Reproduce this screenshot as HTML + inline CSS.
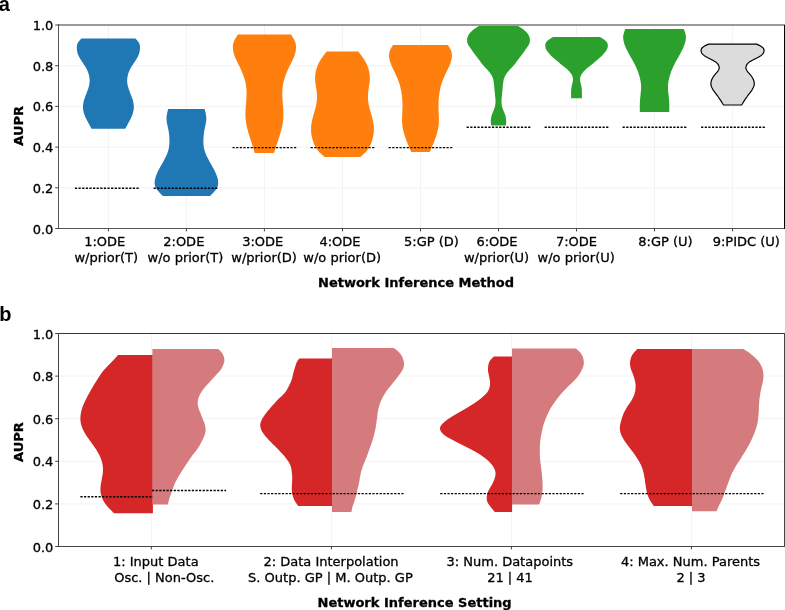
<!DOCTYPE html>
<html lang="en"><head><meta charset="utf-8"><title>AUPR violin plots</title>
<style>html,body{margin:0;padding:0;background:#fff}svg{display:block}text{font-family:"DejaVu Sans","Liberation Sans",sans-serif;fill:#000;stroke:#000;stroke-width:0.3px}.t{font-size:13px}.b{font-size:13px;font-weight:bold}.p{font-family:"Liberation Sans","DejaVu Sans",sans-serif;font-size:20px;font-weight:bold;stroke:none}</style></head><body>
<svg width="785" height="610" viewBox="0 0 785 610">
<rect width="785" height="610" fill="#fff"/>
<line x1="58.5" x2="784.0" y1="228.5" y2="228.5" stroke="#f3f3f3" stroke-width="1"/>
<line x1="58.5" x2="784.0" y1="187.8" y2="187.8" stroke="#f3f3f3" stroke-width="1"/>
<line x1="58.5" x2="784.0" y1="147.1" y2="147.1" stroke="#f3f3f3" stroke-width="1"/>
<line x1="58.5" x2="784.0" y1="106.4" y2="106.4" stroke="#f3f3f3" stroke-width="1"/>
<line x1="58.5" x2="784.0" y1="65.7" y2="65.7" stroke="#f3f3f3" stroke-width="1"/>
<line x1="58.5" x2="784.0" y1="25.0" y2="25.0" stroke="#f3f3f3" stroke-width="1"/>
<line x1="108.4" x2="108.4" y1="25.0" y2="228.5" stroke="#f3f3f3" stroke-width="1"/>
<line x1="186.4" x2="186.4" y1="25.0" y2="228.5" stroke="#f3f3f3" stroke-width="1"/>
<line x1="264.4" x2="264.4" y1="25.0" y2="228.5" stroke="#f3f3f3" stroke-width="1"/>
<line x1="342.5" x2="342.5" y1="25.0" y2="228.5" stroke="#f3f3f3" stroke-width="1"/>
<line x1="420.5" x2="420.5" y1="25.0" y2="228.5" stroke="#f3f3f3" stroke-width="1"/>
<line x1="498.5" x2="498.5" y1="25.0" y2="228.5" stroke="#f3f3f3" stroke-width="1"/>
<line x1="576.5" x2="576.5" y1="25.0" y2="228.5" stroke="#f3f3f3" stroke-width="1"/>
<line x1="654.5" x2="654.5" y1="25.0" y2="228.5" stroke="#f3f3f3" stroke-width="1"/>
<line x1="732.6" x2="732.6" y1="25.0" y2="228.5" stroke="#f3f3f3" stroke-width="1"/>
<path d="M81.5,38.4 L80.4,39.5 L79.4,40.7 L78.5,41.8 L77.8,43.0 L77.3,44.1 L77.0,45.3 L76.8,46.4 L76.8,47.5 L76.8,48.7 L76.9,49.8 L77.1,51.0 L77.3,52.1 L77.6,53.3 L78.0,54.4 L78.5,55.5 L79.0,56.7 L79.6,57.8 L80.3,59.0 L81.0,60.1 L81.7,61.3 L82.5,62.4 L83.3,63.5 L84.0,64.7 L84.8,65.8 L85.5,67.0 L86.1,68.1 L86.7,69.3 L87.3,70.4 L87.8,71.5 L88.2,72.7 L88.6,73.8 L88.9,75.0 L89.1,76.1 L89.4,77.3 L89.5,78.4 L89.6,79.5 L89.7,80.7 L89.6,81.8 L89.5,83.0 L89.4,84.1 L89.1,85.3 L88.9,86.4 L88.5,87.6 L88.2,88.7 L87.8,89.8 L87.4,91.0 L86.9,92.1 L86.5,93.3 L86.1,94.4 L85.6,95.6 L85.2,96.7 L84.8,97.8 L84.4,99.0 L84.0,100.1 L83.7,101.3 L83.5,102.4 L83.3,103.6 L83.1,104.7 L83.0,105.8 L83.0,107.0 L83.0,108.1 L83.1,109.3 L83.3,110.4 L83.5,111.6 L83.8,112.7 L84.1,113.8 L84.5,115.0 L85.0,116.1 L85.5,117.3 L86.0,118.4 L86.6,119.6 L87.2,120.7 L87.8,121.8 L88.4,123.0 L89.0,124.1 L89.6,125.3 L90.3,126.4 L90.9,127.6 L91.5,128.7 L125.3,128.7 L125.9,127.6 L126.5,126.4 L127.2,125.3 L127.8,124.1 L128.4,123.0 L129.0,121.8 L129.6,120.7 L130.2,119.6 L130.8,118.4 L131.3,117.3 L131.8,116.1 L132.3,115.0 L132.7,113.8 L133.0,112.7 L133.3,111.6 L133.5,110.4 L133.7,109.3 L133.8,108.1 L133.8,107.0 L133.8,105.8 L133.7,104.7 L133.5,103.6 L133.3,102.4 L133.1,101.3 L132.8,100.1 L132.4,99.0 L132.0,97.8 L131.6,96.7 L131.2,95.6 L130.7,94.4 L130.3,93.3 L129.9,92.1 L129.4,91.0 L129.0,89.8 L128.6,88.7 L128.3,87.6 L127.9,86.4 L127.7,85.3 L127.4,84.1 L127.3,83.0 L127.2,81.8 L127.1,80.7 L127.2,79.5 L127.3,78.4 L127.4,77.3 L127.7,76.1 L127.9,75.0 L128.2,73.8 L128.6,72.7 L129.0,71.5 L129.5,70.4 L130.1,69.3 L130.7,68.1 L131.3,67.0 L132.0,65.8 L132.8,64.7 L133.5,63.5 L134.3,62.4 L135.1,61.3 L135.8,60.1 L136.5,59.0 L137.2,57.8 L137.8,56.7 L138.3,55.5 L138.8,54.4 L139.2,53.3 L139.5,52.1 L139.7,51.0 L139.9,49.8 L140.0,48.7 L140.0,47.5 L140.0,46.4 L139.8,45.3 L139.5,44.1 L139.0,43.0 L138.3,41.8 L137.4,40.7 L136.4,39.5 L135.3,38.4Z" fill="#1f77b4"/>
<path d="M168.2,109.0 L167.9,110.1 L167.6,111.2 L167.4,112.3 L167.1,113.4 L166.9,114.5 L166.7,115.6 L166.6,116.7 L166.5,117.8 L166.5,118.9 L166.6,120.0 L166.7,121.1 L166.8,122.2 L167.0,123.3 L167.2,124.4 L167.5,125.5 L167.7,126.6 L167.9,127.7 L168.2,128.8 L168.4,129.9 L168.6,131.0 L168.8,132.1 L168.9,133.2 L169.1,134.3 L169.2,135.4 L169.3,136.5 L169.3,137.6 L169.4,138.7 L169.4,139.8 L169.4,140.9 L169.4,142.0 L169.4,143.1 L169.3,144.2 L169.2,145.3 L169.1,146.4 L169.0,147.5 L168.7,148.6 L168.5,149.7 L168.2,150.8 L167.8,151.9 L167.4,153.1 L167.0,154.2 L166.5,155.3 L166.0,156.4 L165.4,157.5 L164.9,158.6 L164.3,159.7 L163.7,160.8 L163.1,161.9 L162.5,163.0 L161.9,164.1 L161.2,165.2 L160.6,166.3 L160.0,167.4 L159.4,168.5 L158.8,169.6 L158.3,170.7 L157.7,171.8 L157.2,172.9 L156.8,174.0 L156.3,175.1 L155.9,176.2 L155.6,177.3 L155.3,178.4 L155.0,179.5 L154.8,180.6 L154.7,181.7 L154.6,182.8 L154.7,183.9 L154.9,185.0 L155.1,186.1 L155.6,187.2 L156.2,188.3 L156.8,189.4 L157.7,190.5 L158.6,191.6 L159.6,192.7 L160.6,193.8 L161.8,194.9 L162.9,196.0 L209.9,196.0 L211.1,194.9 L212.2,193.8 L213.3,192.7 L214.3,191.6 L215.2,190.5 L216.0,189.4 L216.7,188.3 L217.3,187.2 L217.7,186.1 L218.0,185.0 L218.1,183.9 L218.2,182.8 L218.1,181.7 L218.0,180.6 L217.8,179.5 L217.6,178.4 L217.3,177.3 L216.9,176.2 L216.5,175.1 L216.1,174.0 L215.6,172.9 L215.1,171.8 L214.6,170.7 L214.0,169.6 L213.4,168.5 L212.8,167.4 L212.2,166.3 L211.6,165.2 L211.0,164.1 L210.4,163.0 L209.7,161.9 L209.1,160.8 L208.5,159.7 L208.0,158.6 L207.4,157.5 L206.9,156.4 L206.3,155.3 L205.9,154.2 L205.4,153.1 L205.0,151.9 L204.7,150.8 L204.4,149.7 L204.1,148.6 L203.9,147.5 L203.7,146.4 L203.6,145.3 L203.5,144.2 L203.4,143.1 L203.4,142.0 L203.4,140.9 L203.4,139.8 L203.5,138.7 L203.5,137.6 L203.6,136.5 L203.7,135.4 L203.8,134.3 L203.9,133.2 L204.1,132.1 L204.2,131.0 L204.4,129.9 L204.7,128.8 L204.9,127.7 L205.1,126.6 L205.4,125.5 L205.6,124.4 L205.8,123.3 L206.0,122.2 L206.2,121.1 L206.3,120.0 L206.3,118.9 L206.3,117.8 L206.2,116.7 L206.1,115.6 L205.9,114.5 L205.7,113.4 L205.5,112.3 L205.2,111.2 L204.9,110.1 L204.6,109.0Z" fill="#1f77b4"/>
<path d="M237.9,34.6 L236.9,36.1 L236.0,37.6 L235.1,39.1 L234.3,40.6 L233.7,42.1 L233.3,43.6 L233.0,45.1 L232.9,46.6 L232.9,48.1 L233.0,49.6 L233.2,51.1 L233.5,52.6 L233.9,54.1 L234.4,55.6 L235.0,57.1 L235.6,58.6 L236.3,60.1 L237.0,61.6 L237.8,63.1 L238.5,64.6 L239.3,66.1 L240.0,67.6 L240.7,69.1 L241.3,70.6 L242.0,72.1 L242.6,73.6 L243.2,75.1 L243.7,76.6 L244.2,78.1 L244.7,79.6 L245.1,81.1 L245.5,82.6 L245.8,84.1 L246.0,85.6 L246.2,87.1 L246.4,88.6 L246.5,90.1 L246.5,91.6 L246.6,93.1 L246.5,94.5 L246.5,96.0 L246.4,97.5 L246.4,99.0 L246.3,100.5 L246.2,102.0 L246.1,103.5 L245.9,105.0 L245.8,106.5 L245.7,108.0 L245.6,109.5 L245.5,111.0 L245.5,112.5 L245.4,114.0 L245.4,115.5 L245.5,117.0 L245.6,118.5 L245.7,120.0 L245.9,121.5 L246.1,123.0 L246.4,124.5 L246.7,126.0 L247.0,127.5 L247.4,129.0 L247.8,130.5 L248.2,132.0 L248.6,133.5 L249.1,135.0 L249.5,136.5 L250.0,138.0 L250.5,139.5 L251.0,141.0 L251.5,142.5 L252.0,144.0 L252.4,145.5 L252.9,147.0 L253.4,148.5 L253.9,150.0 L254.3,151.5 L254.7,153.0 L274.1,153.0 L274.6,151.5 L275.0,150.0 L275.5,148.5 L276.0,147.0 L276.4,145.5 L276.9,144.0 L277.4,142.5 L277.9,141.0 L278.4,139.5 L278.9,138.0 L279.4,136.5 L279.8,135.0 L280.3,133.5 L280.7,132.0 L281.1,130.5 L281.5,129.0 L281.9,127.5 L282.2,126.0 L282.5,124.5 L282.8,123.0 L283.0,121.5 L283.2,120.0 L283.3,118.5 L283.4,117.0 L283.4,115.5 L283.4,114.0 L283.4,112.5 L283.4,111.0 L283.3,109.5 L283.2,108.0 L283.1,106.5 L282.9,105.0 L282.8,103.5 L282.7,102.0 L282.6,100.5 L282.5,99.0 L282.4,97.5 L282.4,96.0 L282.3,94.5 L282.3,93.1 L282.3,91.6 L282.4,90.1 L282.5,88.6 L282.7,87.1 L282.9,85.6 L283.1,84.1 L283.4,82.6 L283.8,81.1 L284.2,79.6 L284.7,78.1 L285.2,76.6 L285.7,75.1 L286.3,73.6 L286.9,72.1 L287.5,70.6 L288.2,69.1 L288.9,67.6 L289.6,66.1 L290.4,64.6 L291.1,63.1 L291.9,61.6 L292.6,60.1 L293.3,58.6 L293.9,57.1 L294.5,55.6 L295.0,54.1 L295.4,52.6 L295.7,51.1 L295.9,49.6 L296.0,48.1 L296.0,46.6 L295.9,45.1 L295.6,43.6 L295.2,42.1 L294.6,40.6 L293.8,39.1 L292.9,37.6 L291.9,36.1 L290.9,34.6Z" fill="#ff7f0e"/>
<path d="M326.6,51.6 L325.5,52.9 L324.5,54.3 L323.5,55.6 L322.5,56.9 L321.6,58.3 L320.7,59.6 L319.9,60.9 L319.2,62.3 L318.5,63.6 L317.9,64.9 L317.3,66.3 L316.9,67.6 L316.4,68.9 L316.1,70.3 L315.8,71.6 L315.5,72.9 L315.4,74.3 L315.2,75.6 L315.1,76.9 L315.1,78.3 L315.1,79.6 L315.2,81.0 L315.4,82.3 L315.5,83.6 L315.7,85.0 L315.9,86.3 L316.1,87.6 L316.3,89.0 L316.5,90.3 L316.7,91.6 L316.8,93.0 L316.9,94.3 L317.0,95.6 L317.0,97.0 L316.9,98.3 L316.9,99.6 L316.8,101.0 L316.6,102.3 L316.4,103.6 L316.1,105.0 L315.9,106.3 L315.6,107.6 L315.2,109.0 L314.8,110.3 L314.5,111.6 L314.1,113.0 L313.7,114.3 L313.3,115.6 L312.9,117.0 L312.6,118.3 L312.2,119.6 L311.9,121.0 L311.7,122.3 L311.5,123.6 L311.3,125.0 L311.2,126.3 L311.1,127.6 L311.1,129.0 L311.1,130.3 L311.1,131.7 L311.2,133.0 L311.4,134.3 L311.6,135.7 L311.9,137.0 L312.2,138.3 L312.6,139.7 L313.0,141.0 L313.4,142.3 L313.9,143.7 L314.5,145.0 L315.2,146.3 L316.0,147.7 L316.8,149.0 L317.8,150.3 L318.8,151.7 L320.1,153.0 L321.5,154.3 L323.2,155.7 L324.9,157.0 L360.1,157.0 L361.8,155.7 L363.4,154.3 L364.8,153.0 L366.1,151.7 L367.2,150.3 L368.1,149.0 L369.0,147.7 L369.7,146.3 L370.4,145.0 L371.0,143.7 L371.5,142.3 L372.0,141.0 L372.4,139.7 L372.7,138.3 L373.0,137.0 L373.3,135.7 L373.5,134.3 L373.7,133.0 L373.8,131.7 L373.9,130.3 L373.9,129.0 L373.8,127.6 L373.7,126.3 L373.6,125.0 L373.4,123.6 L373.2,122.3 L373.0,121.0 L372.7,119.6 L372.4,118.3 L372.0,117.0 L371.6,115.6 L371.2,114.3 L370.8,113.0 L370.5,111.6 L370.1,110.3 L369.7,109.0 L369.4,107.6 L369.1,106.3 L368.8,105.0 L368.5,103.6 L368.3,102.3 L368.2,101.0 L368.0,99.6 L368.0,98.3 L367.9,97.0 L368.0,95.6 L368.0,94.3 L368.1,93.0 L368.3,91.6 L368.4,90.3 L368.6,89.0 L368.8,87.6 L369.0,86.3 L369.2,85.0 L369.4,83.6 L369.6,82.3 L369.7,81.0 L369.8,79.6 L369.8,78.3 L369.8,76.9 L369.7,75.6 L369.6,74.3 L369.4,72.9 L369.1,71.6 L368.8,70.3 L368.5,68.9 L368.1,67.6 L367.6,66.3 L367.0,64.9 L366.4,63.6 L365.8,62.3 L365.0,60.9 L364.2,59.6 L363.3,58.3 L362.4,56.9 L361.4,55.6 L360.4,54.3 L359.4,52.9 L358.4,51.6Z" fill="#ff7f0e"/>
<path d="M393.0,45.0 L392.1,46.4 L391.3,47.7 L390.6,49.1 L390.0,50.4 L389.5,51.8 L389.2,53.1 L389.1,54.5 L389.0,55.8 L389.1,57.2 L389.3,58.5 L389.6,59.9 L389.9,61.3 L390.4,62.6 L390.9,64.0 L391.4,65.3 L392.0,66.7 L392.6,68.0 L393.3,69.4 L393.9,70.7 L394.6,72.1 L395.2,73.4 L395.9,74.8 L396.5,76.2 L397.1,77.5 L397.7,78.9 L398.2,80.2 L398.7,81.6 L399.1,82.9 L399.6,84.3 L400.0,85.6 L400.3,87.0 L400.6,88.3 L400.9,89.7 L401.2,91.1 L401.4,92.4 L401.6,93.8 L401.8,95.1 L402.0,96.5 L402.1,97.8 L402.2,99.2 L402.3,100.5 L402.4,101.9 L402.4,103.2 L402.5,104.6 L402.5,105.9 L402.5,107.3 L402.4,108.7 L402.4,110.0 L402.3,111.4 L402.3,112.7 L402.2,114.1 L402.2,115.4 L402.1,116.8 L402.1,118.1 L402.0,119.5 L402.0,120.8 L402.1,122.2 L402.2,123.6 L402.3,124.9 L402.4,126.3 L402.6,127.6 L402.9,129.0 L403.2,130.3 L403.5,131.7 L403.9,133.0 L404.3,134.4 L404.7,135.7 L405.2,137.1 L405.6,138.5 L406.1,139.8 L406.6,141.2 L407.2,142.5 L407.7,143.9 L408.3,145.2 L408.8,146.6 L409.4,147.9 L410.0,149.3 L410.6,150.6 L411.2,152.0 L429.8,152.0 L430.4,150.6 L431.0,149.3 L431.5,147.9 L432.1,146.6 L432.7,145.2 L433.2,143.9 L433.8,142.5 L434.3,141.2 L434.8,139.8 L435.3,138.5 L435.8,137.1 L436.2,135.7 L436.7,134.4 L437.1,133.0 L437.4,131.7 L437.8,130.3 L438.1,129.0 L438.3,127.6 L438.5,126.3 L438.7,124.9 L438.8,123.6 L438.9,122.2 L438.9,120.8 L438.9,119.5 L438.9,118.1 L438.9,116.8 L438.8,115.4 L438.7,114.1 L438.7,112.7 L438.6,111.4 L438.6,110.0 L438.5,108.7 L438.5,107.3 L438.5,105.9 L438.5,104.6 L438.5,103.2 L438.6,101.9 L438.6,100.5 L438.7,99.2 L438.9,97.8 L439.0,96.5 L439.2,95.1 L439.3,93.8 L439.6,92.4 L439.8,91.1 L440.0,89.7 L440.3,88.3 L440.6,87.0 L441.0,85.6 L441.4,84.3 L441.8,82.9 L442.3,81.6 L442.8,80.2 L443.3,78.9 L443.9,77.5 L444.5,76.2 L445.1,74.8 L445.7,73.4 L446.4,72.1 L447.0,70.7 L447.7,69.4 L448.3,68.0 L449.0,66.7 L449.5,65.3 L450.1,64.0 L450.6,62.6 L451.0,61.3 L451.4,59.9 L451.7,58.5 L451.9,57.2 L451.9,55.8 L451.9,54.5 L451.7,53.1 L451.4,51.8 L451.0,50.4 L450.3,49.1 L449.6,47.7 L448.8,46.4 L448.0,45.0Z" fill="#ff7f0e"/>
<path d="M481.0,24.5 L479.2,25.8 L477.3,27.1 L475.3,28.3 L473.5,29.6 L471.9,30.9 L470.5,32.2 L469.5,33.5 L468.6,34.7 L468.0,36.0 L467.5,37.3 L467.2,38.6 L467.1,39.9 L467.1,41.1 L467.3,42.4 L467.7,43.7 L468.3,45.0 L469.1,46.3 L470.0,47.5 L470.9,48.8 L471.8,50.1 L472.7,51.4 L473.6,52.7 L474.6,53.9 L475.6,55.2 L476.5,56.5 L477.5,57.8 L478.4,59.1 L479.4,60.3 L480.3,61.6 L481.3,62.9 L482.3,64.2 L483.4,65.5 L484.5,66.7 L485.7,68.0 L486.9,69.3 L488.0,70.6 L489.1,71.9 L490.1,73.1 L491.0,74.4 L491.8,75.7 L492.4,77.0 L492.9,78.2 L493.3,79.5 L493.5,80.8 L493.7,82.1 L493.9,83.4 L494.1,84.6 L494.2,85.9 L494.3,87.2 L494.4,88.5 L494.5,89.8 L494.6,91.0 L494.7,92.3 L494.9,93.6 L495.0,94.9 L495.1,96.2 L495.3,97.4 L495.4,98.7 L495.5,100.0 L495.5,101.3 L495.5,102.6 L495.4,103.8 L495.2,105.1 L495.0,106.4 L494.6,107.7 L494.2,109.0 L493.7,110.2 L493.2,111.5 L492.6,112.8 L492.1,114.1 L491.7,115.4 L491.3,116.6 L491.1,117.9 L490.9,119.2 L490.8,120.5 L490.8,121.8 L490.9,123.0 L491.0,124.3 L491.2,125.6 L505.8,125.6 L506.0,124.3 L506.1,123.0 L506.2,121.8 L506.2,120.5 L506.1,119.2 L505.9,117.9 L505.7,116.6 L505.3,115.4 L504.9,114.1 L504.4,112.8 L503.8,111.5 L503.3,110.2 L502.8,109.0 L502.4,107.7 L502.0,106.4 L501.8,105.1 L501.6,103.8 L501.5,102.6 L501.5,101.3 L501.5,100.0 L501.6,98.7 L501.7,97.4 L501.9,96.2 L502.0,94.9 L502.1,93.6 L502.3,92.3 L502.4,91.0 L502.5,89.8 L502.6,88.5 L502.7,87.2 L502.8,85.9 L502.9,84.6 L503.1,83.4 L503.3,82.1 L503.5,80.8 L503.7,79.5 L504.1,78.2 L504.6,77.0 L505.2,75.7 L506.0,74.4 L506.9,73.1 L507.9,71.9 L509.0,70.6 L510.1,69.3 L511.3,68.0 L512.5,66.7 L513.6,65.5 L514.7,64.2 L515.7,62.9 L516.7,61.6 L517.6,60.3 L518.6,59.1 L519.5,57.8 L520.5,56.5 L521.4,55.2 L522.4,53.9 L523.4,52.7 L524.3,51.4 L525.2,50.1 L526.1,48.8 L527.0,47.5 L527.9,46.3 L528.7,45.0 L529.3,43.7 L529.7,42.4 L529.9,41.1 L529.9,39.9 L529.8,38.6 L529.5,37.3 L529.0,36.0 L528.4,34.7 L527.5,33.5 L526.5,32.2 L525.1,30.9 L523.5,29.6 L521.7,28.3 L519.7,27.1 L517.8,25.8 L516.0,24.5Z" fill="#2ca02c"/>
<path d="M552.9,37.1 L551.6,37.9 L550.3,38.6 L549.2,39.4 L548.1,40.2 L547.2,41.0 L546.5,41.7 L546.0,42.5 L545.6,43.3 L545.4,44.1 L545.3,44.8 L545.2,45.6 L545.3,46.4 L545.4,47.2 L545.6,47.9 L545.8,48.7 L546.2,49.5 L546.6,50.2 L547.1,51.0 L547.6,51.8 L548.2,52.6 L548.9,53.3 L549.6,54.1 L550.3,54.9 L551.1,55.7 L551.9,56.4 L552.7,57.2 L553.6,58.0 L554.5,58.8 L555.4,59.5 L556.2,60.3 L557.2,61.1 L558.1,61.8 L559.0,62.6 L559.9,63.4 L560.9,64.2 L561.9,64.9 L562.8,65.7 L563.8,66.5 L564.8,67.3 L565.7,68.0 L566.6,68.8 L567.5,69.6 L568.3,70.4 L569.0,71.1 L569.7,71.9 L570.4,72.7 L571.0,73.5 L571.5,74.2 L571.9,75.0 L572.2,75.8 L572.5,76.5 L572.7,77.3 L572.9,78.1 L573.0,78.9 L573.0,79.6 L572.9,80.4 L572.8,81.2 L572.7,82.0 L572.5,82.7 L572.3,83.5 L572.1,84.3 L572.0,85.1 L571.8,85.8 L571.6,86.6 L571.5,87.4 L571.4,88.1 L571.3,88.9 L571.2,89.7 L571.2,90.5 L571.1,91.2 L571.1,92.0 L571.1,92.8 L571.1,93.6 L571.1,94.3 L571.1,95.1 L571.1,95.9 L571.1,96.7 L571.1,97.4 L571.1,98.2 L581.9,98.2 L581.9,97.4 L581.9,96.7 L581.9,95.9 L581.9,95.1 L581.9,94.3 L581.9,93.6 L581.9,92.8 L581.9,92.0 L581.9,91.2 L581.9,90.5 L581.8,89.7 L581.8,88.9 L581.7,88.1 L581.6,87.4 L581.4,86.6 L581.3,85.8 L581.1,85.1 L580.9,84.3 L580.7,83.5 L580.5,82.7 L580.4,82.0 L580.2,81.2 L580.1,80.4 L580.1,79.6 L580.1,78.9 L580.2,78.1 L580.3,77.3 L580.5,76.5 L580.8,75.8 L581.2,75.0 L581.6,74.2 L582.1,73.5 L582.7,72.7 L583.3,71.9 L584.0,71.1 L584.8,70.4 L585.6,69.6 L586.4,68.8 L587.3,68.0 L588.3,67.3 L589.2,66.5 L590.2,65.7 L591.2,64.9 L592.2,64.2 L593.1,63.4 L594.1,62.6 L595.0,61.8 L595.9,61.1 L596.8,60.3 L597.7,59.5 L598.6,58.8 L599.4,58.0 L600.3,57.2 L601.1,56.4 L602.0,55.7 L602.7,54.9 L603.5,54.1 L604.2,53.3 L604.8,52.6 L605.4,51.8 L606.0,51.0 L606.4,50.2 L606.8,49.5 L607.2,48.7 L607.5,47.9 L607.7,47.2 L607.8,46.4 L607.8,45.6 L607.8,44.8 L607.7,44.1 L607.4,43.3 L607.0,42.5 L606.5,41.7 L605.8,41.0 L604.9,40.2 L603.9,39.4 L602.7,38.6 L601.4,37.9 L600.1,37.1Z" fill="#2ca02c"/>
<path d="M625.3,29.0 L624.9,30.1 L624.5,31.1 L624.1,32.2 L623.8,33.2 L623.5,34.3 L623.3,35.3 L623.2,36.4 L623.1,37.4 L623.2,38.5 L623.3,39.5 L623.5,40.6 L623.7,41.6 L624.0,42.7 L624.3,43.7 L624.6,44.8 L625.0,45.8 L625.5,46.9 L625.9,47.9 L626.4,49.0 L626.9,50.0 L627.4,51.1 L628.0,52.1 L628.5,53.2 L629.1,54.2 L629.7,55.3 L630.3,56.3 L630.9,57.4 L631.5,58.4 L632.1,59.5 L632.7,60.5 L633.2,61.6 L633.8,62.6 L634.4,63.7 L634.9,64.7 L635.4,65.8 L635.9,66.8 L636.4,67.9 L636.8,68.9 L637.3,70.0 L637.7,71.0 L638.1,72.1 L638.4,73.1 L638.8,74.2 L639.1,75.2 L639.4,76.3 L639.7,77.3 L640.0,78.4 L640.2,79.4 L640.4,80.5 L640.6,81.5 L640.8,82.6 L640.9,83.6 L641.0,84.7 L641.1,85.7 L641.1,86.8 L641.1,87.8 L641.1,88.9 L641.0,89.9 L640.9,91.0 L640.8,92.0 L640.7,93.1 L640.6,94.1 L640.5,95.2 L640.4,96.2 L640.3,97.3 L640.2,98.3 L640.1,99.4 L640.0,100.4 L639.9,101.5 L639.9,102.5 L639.8,103.6 L639.8,104.6 L639.8,105.7 L639.8,106.7 L639.8,107.8 L639.8,108.8 L639.8,109.9 L639.8,110.9 L639.8,112.0 L669.2,112.0 L669.3,110.9 L669.3,109.9 L669.3,108.8 L669.3,107.8 L669.3,106.7 L669.3,105.7 L669.3,104.6 L669.3,103.6 L669.2,102.5 L669.2,101.5 L669.1,100.4 L669.0,99.4 L668.9,98.3 L668.8,97.3 L668.7,96.2 L668.6,95.2 L668.4,94.1 L668.3,93.1 L668.2,92.0 L668.1,91.0 L668.1,89.9 L668.0,88.9 L668.0,87.8 L668.0,86.8 L668.0,85.7 L668.1,84.7 L668.2,83.6 L668.3,82.6 L668.4,81.5 L668.6,80.5 L668.9,79.4 L669.1,78.4 L669.4,77.3 L669.7,76.3 L670.0,75.2 L670.3,74.2 L670.7,73.1 L671.0,72.1 L671.4,71.0 L671.8,70.0 L672.2,68.9 L672.7,67.9 L673.2,66.8 L673.7,65.8 L674.2,64.7 L674.7,63.7 L675.3,62.6 L675.8,61.6 L676.4,60.5 L677.0,59.5 L677.6,58.4 L678.2,57.4 L678.8,56.3 L679.4,55.3 L680.0,54.2 L680.5,53.2 L681.1,52.1 L681.6,51.1 L682.2,50.0 L682.7,49.0 L683.1,47.9 L683.6,46.9 L684.0,45.8 L684.4,44.8 L684.8,43.7 L685.1,42.7 L685.4,41.6 L685.6,40.6 L685.8,39.5 L685.9,38.5 L685.9,37.4 L685.9,36.4 L685.8,35.3 L685.6,34.3 L685.3,33.2 L685.0,32.2 L684.6,31.1 L684.2,30.1 L683.7,29.0Z" fill="#2ca02c"/>
<path d="M708.5,44.1 L706.8,44.9 L705.3,45.6 L703.9,46.4 L702.9,47.2 L702.1,48.0 L701.5,48.7 L701.2,49.5 L701.1,50.3 L701.1,51.0 L701.2,51.8 L701.5,52.6 L701.9,53.4 L702.5,54.1 L703.4,54.9 L704.4,55.7 L705.5,56.4 L706.9,57.2 L708.3,58.0 L709.8,58.7 L711.3,59.5 L712.7,60.3 L714.1,61.1 L715.4,61.8 L716.4,62.6 L717.3,63.4 L717.9,64.1 L718.4,64.9 L718.8,65.7 L719.0,66.5 L719.2,67.2 L719.2,68.0 L719.1,68.8 L718.8,69.5 L718.4,70.3 L717.9,71.1 L717.3,71.9 L716.7,72.6 L716.0,73.4 L715.3,74.2 L714.7,74.9 L714.1,75.7 L713.5,76.5 L713.0,77.2 L712.6,78.0 L712.2,78.8 L711.8,79.6 L711.5,80.3 L711.3,81.1 L711.1,81.9 L710.9,82.6 L710.9,83.4 L710.9,84.2 L711.0,85.0 L711.2,85.7 L711.4,86.5 L711.7,87.3 L712.1,88.0 L712.5,88.8 L712.9,89.6 L713.4,90.4 L714.0,91.1 L714.5,91.9 L715.1,92.7 L715.6,93.4 L716.2,94.2 L716.8,95.0 L717.4,95.7 L718.0,96.5 L718.5,97.3 L719.1,98.1 L719.6,98.8 L720.1,99.6 L720.6,100.4 L721.1,101.1 L721.6,101.9 L722.1,102.7 L722.5,103.5 L723.0,104.2 L723.5,105.0 L741.7,105.0 L742.1,104.2 L742.6,103.5 L743.0,102.7 L743.5,101.9 L744.0,101.1 L744.5,100.4 L745.0,99.6 L745.5,98.8 L746.0,98.1 L746.6,97.3 L747.2,96.5 L747.7,95.7 L748.3,95.0 L748.9,94.2 L749.5,93.4 L750.1,92.7 L750.6,91.9 L751.2,91.1 L751.7,90.4 L752.2,89.6 L752.6,88.8 L753.0,88.0 L753.4,87.3 L753.7,86.5 L754.0,85.7 L754.1,85.0 L754.2,84.2 L754.3,83.4 L754.2,82.6 L754.1,81.9 L753.9,81.1 L753.6,80.3 L753.3,79.6 L753.0,78.8 L752.6,78.0 L752.1,77.2 L751.6,76.5 L751.1,75.7 L750.4,74.9 L749.8,74.2 L749.1,73.4 L748.4,72.6 L747.8,71.9 L747.2,71.1 L746.7,70.3 L746.3,69.5 L746.1,68.8 L745.9,68.0 L745.9,67.2 L746.1,66.5 L746.3,65.7 L746.7,64.9 L747.2,64.1 L747.8,63.4 L748.7,62.6 L749.7,61.8 L751.0,61.1 L752.4,60.3 L753.9,59.5 L755.4,58.7 L756.8,58.0 L758.3,57.2 L759.6,56.4 L760.8,55.7 L761.8,54.9 L762.6,54.1 L763.2,53.4 L763.6,52.6 L763.9,51.8 L764.0,51.0 L764.1,50.3 L763.9,49.5 L763.6,48.7 L763.1,48.0 L762.3,47.2 L761.2,46.4 L759.8,45.6 L758.3,44.9 L756.7,44.1Z" fill="#dcdcdc" stroke="#000" stroke-width="1.2" stroke-linejoin="round"/>
<line x1="74.9" x2="139.0" y1="188.3" y2="188.3" stroke="#000" stroke-width="1.4" stroke-dasharray="2.2 1.42"/>
<line x1="153.6" x2="217.7" y1="188.3" y2="188.3" stroke="#000" stroke-width="1.4" stroke-dasharray="2.2 1.42"/>
<line x1="232.5" x2="296.6" y1="147.6" y2="147.6" stroke="#000" stroke-width="1.4" stroke-dasharray="2.2 1.42"/>
<line x1="310.6" x2="374.7" y1="147.6" y2="147.6" stroke="#000" stroke-width="1.4" stroke-dasharray="2.2 1.42"/>
<line x1="388.6" x2="452.7" y1="147.6" y2="147.6" stroke="#000" stroke-width="1.4" stroke-dasharray="2.2 1.42"/>
<line x1="466.6" x2="530.7" y1="127.2" y2="127.2" stroke="#000" stroke-width="1.4" stroke-dasharray="2.2 1.42"/>
<line x1="544.6" x2="608.7" y1="127.2" y2="127.2" stroke="#000" stroke-width="1.4" stroke-dasharray="2.2 1.42"/>
<line x1="622.6" x2="686.7" y1="127.2" y2="127.2" stroke="#000" stroke-width="1.4" stroke-dasharray="2.2 1.42"/>
<line x1="701.1" x2="765.2" y1="127.2" y2="127.2" stroke="#000" stroke-width="1.4" stroke-dasharray="2.2 1.42"/>
<rect x="58" y="24" width="727" height="2" fill="#9a9a9a"/>
<rect x="58" y="24" width="1" height="205" fill="#555"/>
<rect x="58" y="228" width="727" height="1" fill="#555"/>
<rect x="784" y="25" width="1" height="204" fill="#000"/>
<line x1="55.2" x2="58.5" y1="228.5" y2="228.5" stroke="#444" stroke-width="1"/>
<text class="t" x="53.4" y="233.5" text-anchor="end">0.0</text>
<line x1="55.2" x2="58.5" y1="187.8" y2="187.8" stroke="#444" stroke-width="1"/>
<text class="t" x="53.4" y="192.8" text-anchor="end">0.2</text>
<line x1="55.2" x2="58.5" y1="147.1" y2="147.1" stroke="#444" stroke-width="1"/>
<text class="t" x="53.4" y="152.1" text-anchor="end">0.4</text>
<line x1="55.2" x2="58.5" y1="106.4" y2="106.4" stroke="#444" stroke-width="1"/>
<text class="t" x="53.4" y="111.4" text-anchor="end">0.6</text>
<line x1="55.2" x2="58.5" y1="65.7" y2="65.7" stroke="#444" stroke-width="1"/>
<text class="t" x="53.4" y="70.7" text-anchor="end">0.8</text>
<line x1="55.2" x2="58.5" y1="25.0" y2="25.0" stroke="#444" stroke-width="1"/>
<text class="t" x="53.4" y="30.0" text-anchor="end">1.0</text>
<line x1="108.4" x2="108.4" y1="228.5" y2="231.4" stroke="#444" stroke-width="1"/>
<line x1="186.4" x2="186.4" y1="228.5" y2="231.4" stroke="#444" stroke-width="1"/>
<line x1="264.4" x2="264.4" y1="228.5" y2="231.4" stroke="#444" stroke-width="1"/>
<line x1="342.5" x2="342.5" y1="228.5" y2="231.4" stroke="#444" stroke-width="1"/>
<line x1="420.5" x2="420.5" y1="228.5" y2="231.4" stroke="#444" stroke-width="1"/>
<line x1="498.5" x2="498.5" y1="228.5" y2="231.4" stroke="#444" stroke-width="1"/>
<line x1="576.5" x2="576.5" y1="228.5" y2="231.4" stroke="#444" stroke-width="1"/>
<line x1="654.5" x2="654.5" y1="228.5" y2="231.4" stroke="#444" stroke-width="1"/>
<line x1="732.6" x2="732.6" y1="228.5" y2="231.4" stroke="#444" stroke-width="1"/>
<text class="t" x="104.7" y="246.3" text-anchor="middle">1:ODE</text>
<text class="t" x="106.3" y="261.5" text-anchor="middle">w/prior(T)</text>
<text class="t" x="183.8" y="246.3" text-anchor="middle">2:ODE</text>
<text class="t" x="185.4" y="261.5" text-anchor="middle">w/o prior(T)</text>
<text class="t" x="262.7" y="246.3" text-anchor="middle">3:ODE</text>
<text class="t" x="264.1" y="261.5" text-anchor="middle">w/prior(D)</text>
<text class="t" x="340.0" y="246.3" text-anchor="middle">4:ODE</text>
<text class="t" x="342.2" y="261.5" text-anchor="middle">w/o prior(D)</text>
<text class="t" x="431.5" y="246.3" text-anchor="middle">5:GP (D)</text>
<text class="t" x="497.0" y="246.3" text-anchor="middle">6:ODE</text>
<text class="t" x="496.5" y="261.5" text-anchor="middle">w/prior(U)</text>
<text class="t" x="576.5" y="246.3" text-anchor="middle">7:ODE</text>
<text class="t" x="576.2" y="261.5" text-anchor="middle">w/o prior(U)</text>
<text class="t" x="665.5" y="246.3" text-anchor="middle">8:GP (U)</text>
<text class="t" x="746.3" y="246.3" text-anchor="middle">9:PIDC (U)</text>
<text class="b" x="416" y="286.9" text-anchor="middle">Network Inference Method</text>
<text class="b" transform="translate(23.1,125.8) rotate(-90)" text-anchor="middle">AUPR</text>
<text class="p" x="-1.3" y="11">a</text>
<line x1="58.5" x2="784.0" y1="546.5" y2="546.5" stroke="#f3f3f3" stroke-width="1"/>
<line x1="58.5" x2="784.0" y1="503.9" y2="503.9" stroke="#f3f3f3" stroke-width="1"/>
<line x1="58.5" x2="784.0" y1="461.3" y2="461.3" stroke="#f3f3f3" stroke-width="1"/>
<line x1="58.5" x2="784.0" y1="418.7" y2="418.7" stroke="#f3f3f3" stroke-width="1"/>
<line x1="58.5" x2="784.0" y1="376.1" y2="376.1" stroke="#f3f3f3" stroke-width="1"/>
<line x1="58.5" x2="784.0" y1="333.5" y2="333.5" stroke="#f3f3f3" stroke-width="1"/>
<line x1="151.3" x2="151.3" y1="333.5" y2="546.5" stroke="#f3f3f3" stroke-width="1"/>
<line x1="331.4" x2="331.4" y1="333.5" y2="546.5" stroke="#f3f3f3" stroke-width="1"/>
<line x1="511.4" x2="511.4" y1="333.5" y2="546.5" stroke="#f3f3f3" stroke-width="1"/>
<line x1="691.4" x2="691.4" y1="333.5" y2="546.5" stroke="#f3f3f3" stroke-width="1"/>
<path d="M152.9,355.0 L118.0,355.0 L116.3,357.0 L114.5,359.0 L112.6,361.0 L110.7,363.0 L108.7,365.0 L106.7,367.0 L104.9,369.0 L103.1,371.0 L101.6,373.0 L100.2,375.0 L98.9,377.0 L97.6,379.0 L96.4,381.0 L95.1,383.1 L93.9,385.1 L92.7,387.1 L91.5,389.1 L90.4,391.1 L89.3,393.1 L88.1,395.1 L87.1,397.1 L86.1,399.1 L85.1,401.1 L84.2,403.1 L83.3,405.1 L82.5,407.1 L81.9,409.1 L81.3,411.1 L80.9,413.1 L80.6,415.1 L80.4,417.1 L80.4,419.1 L80.5,421.1 L80.8,423.1 L81.3,425.1 L81.9,427.1 L82.7,429.1 L83.7,431.1 L84.8,433.1 L86.1,435.2 L87.5,437.2 L88.9,439.2 L90.3,441.2 L91.8,443.2 L93.2,445.2 L94.6,447.2 L96.0,449.2 L97.2,451.2 L98.4,453.2 L99.4,455.2 L100.3,457.2 L101.1,459.2 L101.8,461.2 L102.3,463.2 L102.7,465.2 L102.9,467.2 L103.0,469.2 L102.9,471.2 L102.8,473.2 L102.5,475.2 L102.1,477.2 L101.8,479.2 L101.4,481.2 L101.0,483.2 L100.7,485.2 L100.5,487.3 L100.4,489.3 L100.5,491.3 L100.7,493.3 L101.2,495.3 L101.8,497.3 L102.6,499.3 L103.7,501.3 L104.9,503.3 L106.4,505.3 L108.1,507.3 L110.0,509.3 L112.0,511.3 L114.0,513.3 L152.9,513.3Z" fill="#d62728"/>
<path d="M152.4,349.0 L218.0,349.0 L220.4,351.0 L222.1,352.9 L223.2,354.9 L223.9,356.9 L224.3,358.8 L224.4,360.8 L224.0,362.8 L223.3,364.7 L222.5,366.7 L221.4,368.7 L220.0,370.7 L218.4,372.6 L216.5,374.6 L214.7,376.6 L212.8,378.5 L211.0,380.5 L209.2,382.5 L207.4,384.4 L205.6,386.4 L204.0,388.4 L202.5,390.3 L201.2,392.3 L200.1,394.3 L199.1,396.2 L198.4,398.2 L198.0,400.2 L197.7,402.1 L197.7,404.1 L198.0,406.1 L198.5,408.1 L199.2,410.0 L200.0,412.0 L200.8,414.0 L201.6,415.9 L202.4,417.9 L203.1,419.9 L203.9,421.8 L204.6,423.8 L205.1,425.8 L205.5,427.7 L205.6,429.7 L205.5,431.7 L205.1,433.6 L204.5,435.6 L203.7,437.6 L202.7,439.5 L201.7,441.5 L200.7,443.5 L199.6,445.4 L198.4,447.4 L197.0,449.4 L195.6,451.4 L194.1,453.3 L192.5,455.3 L191.1,457.3 L189.7,459.2 L188.3,461.2 L187.0,463.2 L185.7,465.1 L184.5,467.1 L183.2,469.1 L181.9,471.0 L180.7,473.0 L179.4,475.0 L178.2,476.9 L177.1,478.9 L176.1,480.9 L175.1,482.8 L174.3,484.8 L173.5,486.8 L172.8,488.8 L172.0,490.7 L171.3,492.7 L170.7,494.7 L170.0,496.6 L169.4,498.6 L168.8,500.6 L168.3,502.5 L167.8,504.5 L152.4,504.5Z" fill="#d67b7d"/>
<path d="M332.1,358.6 L299.2,358.6 L297.8,360.5 L296.7,362.3 L296.0,364.2 L295.4,366.1 L294.8,367.9 L294.2,369.8 L293.7,371.7 L293.2,373.5 L292.8,375.4 L292.4,377.3 L291.9,379.1 L291.2,381.0 L290.4,382.9 L289.5,384.7 L288.6,386.6 L287.6,388.5 L286.6,390.3 L285.3,392.2 L283.7,394.1 L281.8,395.9 L279.8,397.8 L277.9,399.6 L276.1,401.5 L274.4,403.4 L272.7,405.2 L271.1,407.1 L269.5,409.0 L267.9,410.8 L266.4,412.7 L265.0,414.6 L263.7,416.4 L262.5,418.3 L261.5,420.2 L260.8,422.0 L260.3,423.9 L260.2,425.8 L260.5,427.6 L261.1,429.5 L262.0,431.4 L263.2,433.2 L264.5,435.1 L266.1,437.0 L267.7,438.8 L269.5,440.7 L271.3,442.6 L273.2,444.4 L275.1,446.3 L277.0,448.2 L278.8,450.0 L280.5,451.9 L282.2,453.8 L283.9,455.6 L285.4,457.5 L286.9,459.4 L288.2,461.2 L289.3,463.1 L290.2,465.0 L290.9,466.8 L291.3,468.7 L291.6,470.5 L291.8,472.4 L292.0,474.3 L292.1,476.1 L292.2,478.0 L292.2,479.9 L292.1,481.7 L292.0,483.6 L291.9,485.5 L291.8,487.3 L291.8,489.2 L291.9,491.1 L292.1,492.9 L292.5,494.8 L293.0,496.7 L293.7,498.5 L294.5,500.4 L295.6,502.3 L296.8,504.1 L298.2,506.0 L332.1,506.0Z" fill="#d62728"/>
<path d="M332.0,348.0 L393.8,348.0 L396.6,350.1 L399.0,352.2 L400.7,354.2 L402.0,356.3 L402.9,358.4 L403.5,360.5 L403.9,362.5 L404.0,364.6 L403.8,366.7 L403.1,368.8 L402.0,370.8 L400.6,372.9 L399.1,375.0 L397.6,377.1 L396.1,379.1 L394.4,381.2 L392.7,383.3 L391.0,385.4 L389.2,387.4 L387.6,389.5 L386.1,391.6 L384.8,393.7 L383.5,395.7 L382.4,397.8 L381.4,399.9 L380.5,402.0 L379.8,404.1 L379.1,406.1 L378.6,408.2 L378.1,410.3 L377.7,412.4 L377.4,414.4 L377.2,416.5 L377.0,418.6 L376.7,420.7 L376.4,422.7 L376.1,424.8 L375.8,426.9 L375.4,429.0 L375.0,431.0 L374.5,433.1 L374.0,435.2 L373.4,437.3 L372.8,439.3 L372.2,441.4 L371.5,443.5 L370.7,445.6 L370.0,447.6 L369.2,449.7 L368.5,451.8 L367.7,453.9 L367.0,455.9 L366.2,458.0 L365.4,460.1 L364.5,462.2 L363.6,464.3 L362.8,466.3 L362.1,468.4 L361.4,470.5 L360.9,472.6 L360.5,474.6 L360.1,476.7 L359.7,478.8 L359.4,480.9 L359.0,482.9 L358.6,485.0 L358.1,487.1 L357.5,489.2 L357.0,491.2 L356.5,493.3 L356.0,495.4 L355.5,497.5 L354.9,499.5 L354.3,501.6 L353.6,503.7 L352.8,505.8 L352.2,507.8 L351.8,509.9 L351.4,512.0 L332.0,512.0Z" fill="#d67b7d"/>
<path d="M512.1,356.4 L493.8,356.4 L491.8,358.4 L490.2,360.3 L489.1,362.3 L488.5,364.3 L488.2,366.2 L488.0,368.2 L488.0,370.2 L488.2,372.2 L488.6,374.1 L489.0,376.1 L489.4,378.1 L489.8,380.0 L490.0,382.0 L490.1,384.0 L489.9,385.9 L489.4,387.9 L488.6,389.9 L487.5,391.9 L486.0,393.8 L484.0,395.8 L481.7,397.8 L479.2,399.7 L476.5,401.7 L473.6,403.7 L470.6,405.6 L467.5,407.6 L464.1,409.6 L460.6,411.5 L457.1,413.5 L453.7,415.5 L450.4,417.5 L447.5,419.4 L444.9,421.4 L442.7,423.4 L441.1,425.3 L440.1,427.3 L440.0,429.3 L440.8,431.2 L442.3,433.2 L444.5,435.2 L447.4,437.2 L450.8,439.1 L454.5,441.1 L458.4,443.1 L462.4,445.0 L466.3,447.0 L470.2,449.0 L474.0,450.9 L477.5,452.9 L480.7,454.9 L483.5,456.9 L485.9,458.8 L488.2,460.8 L490.1,462.8 L491.9,464.7 L493.3,466.7 L494.4,468.7 L495.1,470.6 L495.5,472.6 L495.5,474.6 L495.2,476.5 L494.6,478.5 L493.9,480.5 L493.0,482.5 L492.0,484.4 L490.8,486.4 L489.7,488.4 L488.6,490.3 L487.8,492.3 L487.2,494.3 L486.8,496.2 L486.6,498.2 L486.9,500.2 L487.5,502.2 L488.5,504.1 L489.9,506.1 L491.5,508.1 L493.1,510.0 L494.8,512.0 L512.1,512.0Z" fill="#d62728"/>
<path d="M512.0,348.6 L575.8,348.6 L578.3,350.6 L580.3,352.5 L581.7,354.5 L582.7,356.5 L583.3,358.5 L583.7,360.4 L583.9,362.4 L583.7,364.4 L583.3,366.4 L582.5,368.3 L581.6,370.3 L580.6,372.3 L579.4,374.3 L578.0,376.2 L576.4,378.2 L574.6,380.2 L572.7,382.2 L570.7,384.1 L568.6,386.1 L566.6,388.1 L564.6,390.1 L562.8,392.0 L561.0,394.0 L559.3,396.0 L557.7,398.0 L556.2,399.9 L554.8,401.9 L553.4,403.9 L552.1,405.9 L550.9,407.8 L549.8,409.8 L548.8,411.8 L547.8,413.8 L546.9,415.7 L546.1,417.7 L545.3,419.7 L544.6,421.7 L543.9,423.6 L543.3,425.6 L542.8,427.6 L542.3,429.6 L541.9,431.5 L541.5,433.5 L541.1,435.5 L540.8,437.5 L540.5,439.4 L540.2,441.4 L540.1,443.4 L539.9,445.4 L539.8,447.3 L539.8,449.3 L539.8,451.3 L539.8,453.3 L539.9,455.2 L540.0,457.2 L540.1,459.2 L540.3,461.2 L540.5,463.1 L540.8,465.1 L541.0,467.1 L541.3,469.1 L541.5,471.0 L541.8,473.0 L542.0,475.0 L542.2,477.0 L542.3,478.9 L542.5,480.9 L542.5,482.9 L542.6,484.9 L542.6,486.8 L542.6,488.8 L542.5,490.8 L542.3,492.8 L542.0,494.7 L541.6,496.7 L541.1,498.7 L540.5,500.7 L539.9,502.6 L539.2,504.6 L512.0,504.6Z" fill="#d67b7d"/>
<path d="M692.1,349.0 L637.4,349.0 L635.4,351.0 L633.6,353.0 L632.2,355.0 L631.2,356.9 L630.6,358.9 L630.2,360.9 L630.0,362.9 L630.1,364.9 L630.4,366.9 L630.9,368.9 L631.6,370.9 L632.4,372.8 L633.1,374.8 L633.8,376.8 L634.4,378.8 L635.0,380.8 L635.3,382.8 L635.6,384.8 L635.6,386.8 L635.5,388.7 L635.3,390.7 L634.8,392.7 L634.2,394.7 L633.4,396.7 L632.4,398.7 L631.3,400.7 L630.0,402.7 L628.7,404.6 L627.4,406.6 L626.2,408.6 L625.1,410.6 L624.0,412.6 L623.2,414.6 L622.4,416.6 L621.8,418.6 L621.2,420.5 L620.7,422.5 L620.2,424.5 L619.9,426.5 L619.8,428.5 L620.0,430.5 L620.4,432.5 L621.1,434.5 L622.0,436.4 L623.1,438.4 L624.3,440.4 L625.7,442.4 L627.1,444.4 L628.6,446.4 L630.1,448.4 L631.6,450.4 L633.1,452.3 L634.5,454.3 L635.8,456.3 L637.1,458.3 L638.4,460.3 L639.5,462.3 L640.6,464.3 L641.5,466.3 L642.3,468.2 L642.9,470.2 L643.4,472.2 L643.9,474.2 L644.2,476.2 L644.6,478.2 L644.9,480.2 L645.1,482.2 L645.4,484.1 L645.7,486.1 L646.0,488.1 L646.4,490.1 L646.8,492.1 L647.4,494.1 L648.0,496.1 L648.8,498.1 L649.8,500.0 L651.0,502.0 L652.4,504.0 L653.8,506.0 L692.1,506.0Z" fill="#d62728"/>
<path d="M692.0,349.0 L743.4,349.0 L746.6,351.1 L749.6,353.1 L752.3,355.2 L754.7,357.2 L756.7,359.3 L758.5,361.3 L760.0,363.4 L761.1,365.4 L762.0,367.5 L762.7,369.5 L763.1,371.6 L763.4,373.7 L763.5,375.7 L763.4,377.8 L763.2,379.8 L762.8,381.9 L762.3,383.9 L761.8,386.0 L761.3,388.0 L760.9,390.1 L760.5,392.1 L760.2,394.2 L759.9,396.3 L759.6,398.3 L759.3,400.4 L759.2,402.4 L759.0,404.5 L758.9,406.5 L758.9,408.6 L758.8,410.6 L758.7,412.7 L758.5,414.7 L758.3,416.8 L758.1,418.9 L757.8,420.9 L757.5,423.0 L757.0,425.0 L756.5,427.1 L755.8,429.1 L755.1,431.2 L754.3,433.2 L753.5,435.3 L752.6,437.3 L751.7,439.4 L750.7,441.4 L749.7,443.5 L748.6,445.6 L747.4,447.6 L746.2,449.7 L745.0,451.7 L743.7,453.8 L742.4,455.8 L741.1,457.9 L739.8,459.9 L738.5,462.0 L737.2,464.0 L735.9,466.1 L734.7,468.2 L733.6,470.2 L732.5,472.3 L731.5,474.3 L730.6,476.4 L729.8,478.4 L729.1,480.5 L728.3,482.5 L727.6,484.6 L726.8,486.6 L726.0,488.7 L725.3,490.8 L724.5,492.8 L723.8,494.9 L723.1,496.9 L722.2,499.0 L721.3,501.0 L720.3,503.1 L719.2,505.1 L718.2,507.2 L717.3,509.2 L716.5,511.3 L692.0,511.3Z" fill="#d67b7d"/>
<line x1="80.4" x2="153.0" y1="496.8" y2="496.8" stroke="#000" stroke-width="1.4" stroke-dasharray="2.2 1.42"/>
<line x1="152.0" x2="226.1" y1="490.5" y2="490.5" stroke="#000" stroke-width="1.4" stroke-dasharray="2.2 1.42"/>
<line x1="260.2" x2="404.0" y1="493.6" y2="493.6" stroke="#000" stroke-width="1.4" stroke-dasharray="2.2 1.42"/>
<line x1="440.2" x2="584.0" y1="493.6" y2="493.6" stroke="#000" stroke-width="1.4" stroke-dasharray="2.2 1.42"/>
<line x1="620.2" x2="764.0" y1="493.6" y2="493.6" stroke="#000" stroke-width="1.4" stroke-dasharray="2.2 1.42"/>
<rect x="58" y="333" width="727" height="1" fill="#363636"/>
<rect x="58" y="333" width="1" height="214" fill="#444"/>
<rect x="58" y="546" width="727" height="1" fill="#444"/>
<rect x="784" y="333" width="1" height="214" fill="#444"/>
<line x1="55.2" x2="58.5" y1="546.5" y2="546.5" stroke="#444" stroke-width="1"/>
<text class="t" x="53.4" y="551.5" text-anchor="end">0.0</text>
<line x1="55.2" x2="58.5" y1="503.9" y2="503.9" stroke="#444" stroke-width="1"/>
<text class="t" x="53.4" y="508.9" text-anchor="end">0.2</text>
<line x1="55.2" x2="58.5" y1="461.3" y2="461.3" stroke="#444" stroke-width="1"/>
<text class="t" x="53.4" y="466.3" text-anchor="end">0.4</text>
<line x1="55.2" x2="58.5" y1="418.7" y2="418.7" stroke="#444" stroke-width="1"/>
<text class="t" x="53.4" y="423.7" text-anchor="end">0.6</text>
<line x1="55.2" x2="58.5" y1="376.1" y2="376.1" stroke="#444" stroke-width="1"/>
<text class="t" x="53.4" y="381.1" text-anchor="end">0.8</text>
<line x1="55.2" x2="58.5" y1="333.5" y2="333.5" stroke="#444" stroke-width="1"/>
<text class="t" x="53.4" y="338.5" text-anchor="end">1.0</text>
<line x1="151.3" x2="151.3" y1="546.5" y2="549.4" stroke="#444" stroke-width="1"/>
<line x1="331.4" x2="331.4" y1="546.5" y2="549.4" stroke="#444" stroke-width="1"/>
<line x1="511.4" x2="511.4" y1="546.5" y2="549.4" stroke="#444" stroke-width="1"/>
<line x1="691.4" x2="691.4" y1="546.5" y2="549.4" stroke="#444" stroke-width="1"/>
<text class="t" x="113.0" y="566.3">1: Input Data</text>
<text class="t" x="114.2" y="581.7">Osc. | Non-Osc.</text>
<text class="t" x="331.0" y="566.3" text-anchor="middle">2: Data Interpolation</text>
<text class="t" x="330.4" y="581.7" text-anchor="middle">S. Outp. GP | M. Outp. GP</text>
<text class="t" x="509.8" y="566.3" text-anchor="middle">3: Num. Datapoints</text>
<text class="t" x="510.0" y="581.7" text-anchor="middle">21 | 41</text>
<text class="t" x="690.5" y="566.3" text-anchor="middle">4: Max. Num. Parents</text>
<text class="t" x="691.0" y="581.7" text-anchor="middle">2 | 3</text>
<text class="b" x="414.6" y="606.9" text-anchor="middle">Network Inference Setting</text>
<text class="b" transform="translate(23.1,442.1) rotate(-90)" text-anchor="middle">AUPR</text>
<text class="p" x="-0.7" y="320.6">b</text>
</svg></body></html>
